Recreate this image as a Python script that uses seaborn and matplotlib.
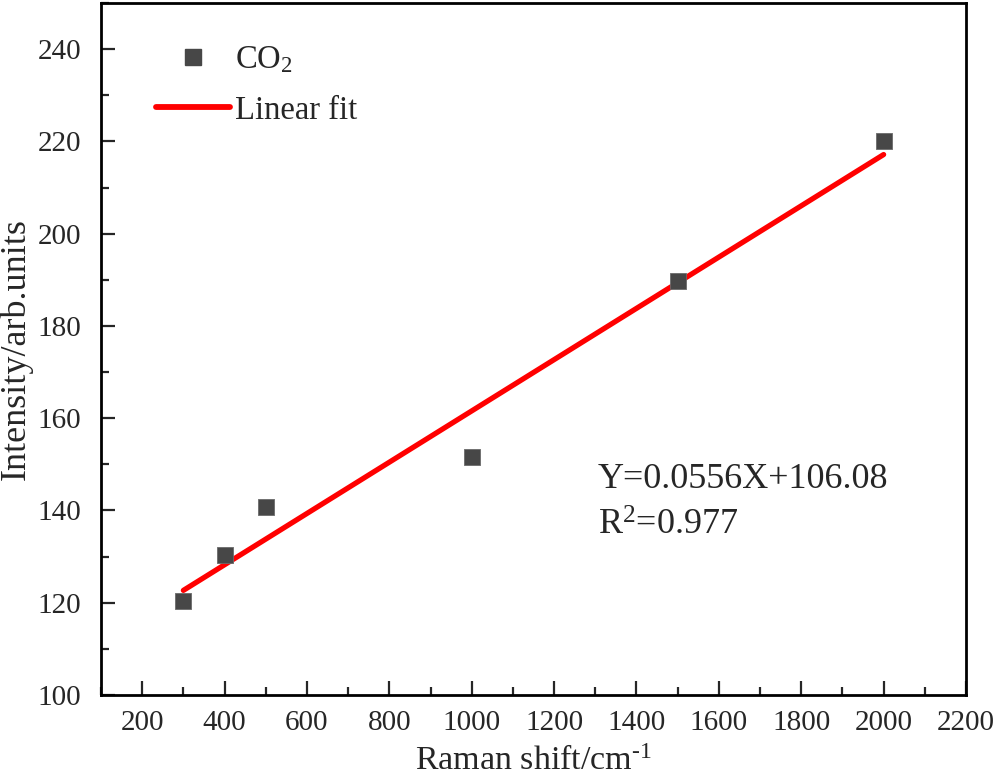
import matplotlib
matplotlib.use("Agg")
import matplotlib.pyplot as plt
import seaborn as sns
import pandas as pd
from matplotlib.ticker import MultipleLocator
from matplotlib.lines import Line2D

raman_shift = [300, 400, 500, 1000, 1500, 2000]
intensity = [120.3, 130.3, 140.8, 151.6, 189.8, 220.0]
equation_text = "Y=0.0556X+106.08"
r2_text = "R$^2$=0.977"

df = pd.DataFrame({"x": raman_shift, "y": intensity})

sns.set_style("ticks")
plt.rcParams["font.family"] = ["Liberation Serif", "DejaVu Serif"]
plt.rcParams["mathtext.fontset"] = "custom"
plt.rcParams["mathtext.rm"] = "Liberation Serif"
plt.rcParams["mathtext.it"] = "Liberation Serif:italic"

fig = plt.figure(figsize=(9.97, 7.84), dpi=100)
ax = fig.add_axes([0.1013, 0.1135, 0.8676, 0.8827])

sns.regplot(data=df, x="x", y="y", ax=ax, scatter=False, ci=None, truncate=True,
            line_kws=dict(color="#ff0000", lw=3.8, solid_capstyle="round"))
sns.scatterplot(data=df, x="x", y="y", ax=ax, marker="s", s=120, color="#474747",
                edgecolor="#6a6a6a", linewidth=0.6, zorder=3)

ax.set_xlim(100, 2200)
ax.set_ylim(100, 250)
ax.xaxis.set_minor_locator(MultipleLocator(100))
ax.yaxis.set_minor_locator(MultipleLocator(10))
ax.set_xticks(range(200, 2201, 200))
ax.set_yticks(range(100, 241, 20))
ax.tick_params(which="both", direction="in", width=1.6, labelsize=21, top=False, right=False)
ax.tick_params(axis="x", pad=11)
ax.tick_params(axis="y", pad=14)
ax.tick_params(which="major", length=10)
ax.tick_params(which="minor", length=6)
for s in ax.spines.values():
    s.set_linewidth(2.0)
    s.set_color("black")

ax.set_xlabel("Raman shift/cm$^{\\text{-}1}$", fontsize=24.5, labelpad=7)
ax.set_ylabel("Intensity/arb.units", fontsize=26)
ax.yaxis.set_label_coords(-0.079, 0.5)

handles = [Line2D([], [], marker="s", ls="none", color="#474747", markersize=11),
           Line2D([], [], color="#ff0000", lw=4.2)]
ax.legend(handles, ["CO$_2$", "Linear fit"], loc="upper left", bbox_to_anchor=(0.03, 0.982),
          frameon=False, fontsize=23.5, handlelength=2.25, handletextpad=0.15, labelspacing=0.6)

ax.text(1306, 146.8, equation_text, fontsize=26, va="center", ha="left")
ax.text(1306, 136.6, r2_text, fontsize=26, va="center", ha="left")

fig.savefig("out.png", dpi=100)
